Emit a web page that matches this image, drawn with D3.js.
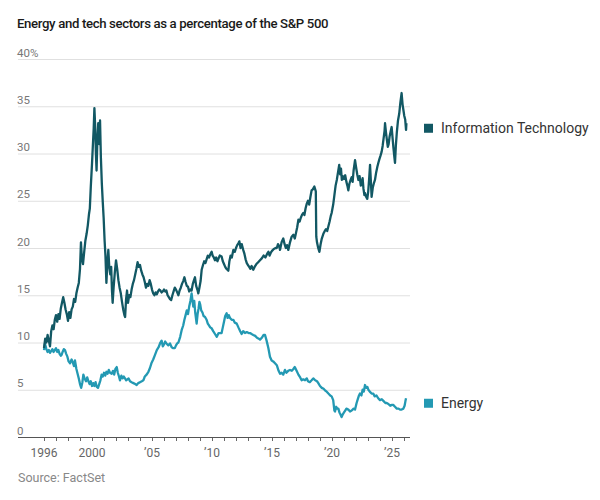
<!DOCTYPE html>
<html>
<head>
<meta charset="utf-8">
<script src="https://cdn.jsdelivr.net/npm/d3@7"></script>
<style>
  html, body { margin: 0; padding: 0; background: #fff; }
  #chart { width: 600px; height: 500px; }
  svg text { font-family: Roboto, "Noto Sans", sans-serif; }
</style>
</head>
<body>
<div id="chart"></div>
<script>
// ---------- Data ----------
const itYears = [
  1996.0, 1996.1, 1996.2, 1996.3, 1996.4, 1996.5, 1996.6, 1996.7, 1996.8, 1996.9,
  1997.0, 1997.1, 1997.2, 1997.3, 1997.4, 1997.5, 1997.6, 1997.7, 1997.8, 1997.9,
  1998.0, 1998.1, 1998.2, 1998.3, 1998.4, 1998.5, 1998.6, 1998.7, 1998.8, 1998.9,
  1999.0, 1999.08, 1999.15, 1999.25, 1999.35, 1999.45, 1999.55, 1999.65, 1999.75, 1999.82, 1999.9,
  2000.0, 2000.07, 2000.14, 2000.2, 2000.26, 2000.32, 2000.38, 2000.45, 2000.52, 2000.6, 2000.67, 2000.74, 2000.82, 2000.9, 2000.97,
  2001.05, 2001.12, 2001.2, 2001.28, 2001.36, 2001.44, 2001.52, 2001.6, 2001.66, 2001.72, 2001.8, 2001.9,
  2002.0, 2002.1, 2002.2, 2002.3, 2002.4, 2002.5, 2002.6, 2002.7, 2002.76, 2002.84, 2002.92,
  2003.0, 2003.1, 2003.2, 2003.3, 2003.4, 2003.5, 2003.6, 2003.7, 2003.8, 2003.9,
  2004.0, 2004.1, 2004.2, 2004.3, 2004.4, 2004.5, 2004.6, 2004.7, 2004.8, 2004.9,
  2005.0, 2005.1, 2005.2, 2005.3, 2005.4, 2005.5, 2005.6, 2005.7, 2005.8, 2005.9,
  2006.0, 2006.1, 2006.2, 2006.3, 2006.4, 2006.5, 2006.6, 2006.7, 2006.8, 2006.9,
  2007.0, 2007.1, 2007.2, 2007.3, 2007.4, 2007.5, 2007.6, 2007.7, 2007.8, 2007.9,
  2008.0, 2008.1, 2008.2, 2008.3, 2008.4, 2008.5, 2008.58, 2008.68, 2008.78, 2008.86, 2008.95,
  2009.05, 2009.14, 2009.25, 2009.35, 2009.45, 2009.55, 2009.65, 2009.75, 2009.85, 2009.97,
  2010.05, 2010.15, 2010.25, 2010.35, 2010.45, 2010.55, 2010.65, 2010.8, 2010.9,
  2011.0, 2011.1, 2011.2, 2011.36, 2011.45, 2011.55, 2011.65, 2011.78, 2011.9,
  2012.0, 2012.1, 2012.2, 2012.28, 2012.38, 2012.48, 2012.6, 2012.7, 2012.8, 2012.9,
  2013.0, 2013.1, 2013.2, 2013.3, 2013.44, 2013.55, 2013.7, 2013.85,
  2014.0, 2014.15, 2014.3, 2014.45, 2014.6, 2014.7, 2014.8, 2014.9,
  2015.0, 2015.15, 2015.3, 2015.4, 2015.5, 2015.6, 2015.67, 2015.8, 2015.94,
  2016.05, 2016.15, 2016.25, 2016.36, 2016.5, 2016.64, 2016.78, 2016.9,
  2017.0, 2017.1, 2017.2, 2017.3, 2017.4, 2017.5, 2017.6, 2017.7, 2017.8, 2017.9,
  2018.0, 2018.1, 2018.2, 2018.3, 2018.4, 2018.53, 2018.65, 2018.69, 2018.75, 2018.85, 2018.95,
  2019.05, 2019.15, 2019.28, 2019.4, 2019.5, 2019.6, 2019.7, 2019.8, 2019.9, 2019.97,
  2020.1, 2020.2, 2020.3, 2020.4, 2020.5, 2020.6, 2020.68, 2020.75, 2020.82, 2020.9,
  2021.0, 2021.1, 2021.2, 2021.28, 2021.36, 2021.45, 2021.55, 2021.64, 2021.72, 2021.8, 2021.92,
  2022.0, 2022.1, 2022.2, 2022.3, 2022.4, 2022.47, 2022.55, 2022.62, 2022.7, 2022.75, 2022.85, 2022.94,
  2023.02, 2023.1, 2023.17, 2023.25, 2023.3, 2023.4, 2023.5, 2023.58, 2023.68, 2023.78, 2023.86, 2023.95,
  2024.05, 2024.14, 2024.22, 2024.3, 2024.38, 2024.42, 2024.5, 2024.58, 2024.65, 2024.72, 2024.8, 2024.9, 2024.97,
  2025.05, 2025.12, 2025.2, 2025.25, 2025.32, 2025.4, 2025.5, 2025.6, 2025.7, 2025.8, 2025.88, 2025.95,
  2026.02, 2026.1, 2026.17, 2026.2
];
const itValues = [
  9.4, 10.4, 10.0, 10.8, 10.2, 9.6, 11.2, 11.8, 11.4, 12.4,
  12.9, 12.2, 13.0, 12.5, 13.6, 14.2, 14.8, 14.2, 13.5, 13.0,
  12.3, 13.2, 12.6, 13.5, 13.8, 14.6, 14.3, 15.2, 15.8, 16.3,
  17.8, 20.6, 19.0, 18.3, 19.6, 20.8, 21.5, 22.4, 23.6, 24.2, 26.5,
  28.9, 30.8, 32.6, 34.8, 33.0, 30.2, 28.2, 31.5, 33.2, 31.0, 33.5, 29.6, 26.8, 24.8, 23.2,
  20.8, 19.2, 16.3, 18.4, 19.8, 18.0, 17.2, 18.0, 15.6, 14.2, 15.8, 17.4,
  18.7, 17.8, 16.6, 15.8, 15.2, 14.3, 13.5, 12.9, 12.7, 14.6, 15.5,
  14.2, 15.0, 14.8, 15.6, 16.2, 16.6, 17.2, 17.8, 18.5, 18.0,
  18.2, 17.6, 17.2, 16.9, 16.4, 15.8, 16.2, 16.0, 16.6, 16.2,
  15.6, 15.2, 15.0, 15.3, 15.1, 15.4, 15.6, 15.5, 15.3, 15.4,
  15.6, 15.4, 15.5, 15.0, 14.8, 14.6, 14.5, 15.0, 15.4, 15.8,
  15.6, 15.3, 15.0, 15.5, 15.8, 16.2, 16.5, 16.9, 16.4, 16.0,
  15.9, 15.4, 15.6, 15.5, 16.2, 16.6, 16.9, 16.0, 15.6, 15.2, 15.8,
  16.5, 17.7, 18.2, 18.6, 18.4, 18.8, 19.2, 19.0, 19.3, 19.6,
  19.2, 19.0, 18.7, 19.0, 18.6, 18.9, 19.2, 19.1, 18.6,
  18.3, 18.0, 17.8, 17.6, 18.6, 19.2, 19.0, 19.8, 19.6,
  20.0, 20.3, 20.5, 20.7, 20.0, 20.4, 19.8, 19.4, 18.8, 18.4,
  18.2, 18.0, 17.8, 18.1, 17.7, 18.0, 18.3, 18.5,
  18.7, 18.9, 19.2, 19.0, 19.4, 19.6, 19.2, 19.5,
  19.7, 19.9, 20.0, 20.0, 20.4, 20.2, 19.8, 20.6, 21.0,
  20.4, 20.0, 20.3, 19.8, 20.6, 21.2, 21.4, 21.0,
  21.6, 22.2, 23.0, 22.8, 23.2, 23.5, 23.7, 23.5, 24.2, 24.7,
  25.0, 24.6, 25.4, 26.1, 26.2, 26.5, 26.0, 21.2, 20.6, 20.0, 19.6,
  20.4, 21.0, 21.5, 21.8, 22.0, 21.8, 22.3, 22.8, 23.4, 23.7,
  24.6, 25.6, 26.6, 27.2, 28.0, 28.8, 27.8, 28.4, 27.2, 27.6,
  27.3, 27.7, 27.0, 26.6, 26.1, 26.8, 27.2, 27.5, 27.0, 28.2, 29.3,
  28.6, 27.8, 27.2, 27.6, 26.6, 26.8, 27.4, 26.3, 25.6, 25.8, 25.4, 25.2,
  26.0, 27.4, 28.8, 26.8, 25.4, 26.4, 26.9, 27.2, 28.0, 28.6, 29.0, 29.4,
  29.8, 30.2, 30.8, 31.6, 32.4, 33.2, 32.2, 31.4, 30.7, 31.0, 31.8, 32.4, 32.8,
  31.6, 30.6, 29.6, 29.0, 30.8, 32.2, 33.5, 34.2, 35.4, 36.4, 35.2, 34.6,
  34.0, 33.6, 32.5, 33.2
];

const energyYears = [
  1996.0, 1996.08, 1996.2, 1996.3, 1996.4, 1996.5, 1996.6, 1996.7, 1996.8, 1996.9,
  1997.0, 1997.1, 1997.2, 1997.3, 1997.4, 1997.47, 1997.55, 1997.65, 1997.75, 1997.85, 1997.95,
  1998.05, 1998.17, 1998.3, 1998.4, 1998.5, 1998.58, 1998.7, 1998.8, 1998.9,
  1999.0, 1999.1, 1999.2, 1999.28, 1999.38, 1999.5, 1999.6, 1999.7, 1999.8, 1999.9,
  2000.0, 2000.1, 2000.2, 2000.3, 2000.4, 2000.5, 2000.6, 2000.7, 2000.8, 2000.9,
  2001.0, 2001.1, 2001.2, 2001.3, 2001.4, 2001.5, 2001.64, 2001.75, 2001.85, 2001.95,
  2002.06, 2002.15, 2002.25, 2002.33, 2002.45, 2002.55, 2002.65, 2002.75, 2002.85, 2002.95,
  2003.05, 2003.17, 2003.3, 2003.45, 2003.6, 2003.72, 2003.85,
  2004.0, 2004.15, 2004.28, 2004.4, 2004.55, 2004.7, 2004.83, 2004.95,
  2005.1, 2005.25, 2005.4, 2005.55, 2005.7, 2005.8, 2005.9,
  2006.0, 2006.1, 2006.2, 2006.36, 2006.5, 2006.64, 2006.75, 2006.9,
  2007.0, 2007.1, 2007.2, 2007.35, 2007.47, 2007.6, 2007.7, 2007.8, 2007.9,
  2008.0, 2008.1, 2008.2, 2008.3, 2008.36, 2008.44, 2008.52, 2008.6, 2008.72, 2008.8, 2008.88, 2008.95,
  2009.02, 2009.1, 2009.2, 2009.3, 2009.42, 2009.55, 2009.65, 2009.75, 2009.85, 2009.97,
  2010.1, 2010.25, 2010.4, 2010.55, 2010.7, 2010.8, 2010.9,
  2011.0, 2011.1, 2011.22, 2011.3, 2011.4, 2011.5, 2011.64, 2011.78, 2011.9,
  2012.06, 2012.2, 2012.35, 2012.47, 2012.6, 2012.75, 2012.9,
  2013.05, 2013.17, 2013.3, 2013.44, 2013.6, 2013.75, 2013.9,
  2014.0, 2014.15, 2014.3, 2014.42, 2014.55, 2014.7, 2014.83, 2014.97,
  2015.1, 2015.25, 2015.4, 2015.55, 2015.67, 2015.8, 2015.94,
  2016.08, 2016.2, 2016.35, 2016.5, 2016.65, 2016.78, 2016.9,
  2017.05, 2017.2, 2017.35, 2017.47, 2017.6, 2017.75, 2017.9,
  2018.0, 2018.15, 2018.3, 2018.44, 2018.6, 2018.75, 2018.86,
  2019.0, 2019.15, 2019.3, 2019.45, 2019.56, 2019.7, 2019.85, 2019.97,
  2020.1, 2020.2, 2020.25, 2020.35, 2020.45, 2020.53, 2020.62, 2020.7, 2020.8, 2020.9,
  2021.0, 2021.1, 2021.2, 2021.36, 2021.5, 2021.64, 2021.8, 2021.92,
  2022.05, 2022.15, 2022.25, 2022.33, 2022.45, 2022.55, 2022.65, 2022.75, 2022.85, 2022.95,
  2023.03, 2023.15, 2023.3, 2023.44, 2023.55, 2023.7, 2023.85,
  2024.0, 2024.15, 2024.3, 2024.45, 2024.56, 2024.7, 2024.85,
  2025.0, 2025.1, 2025.25, 2025.4, 2025.55, 2025.67, 2025.8, 2025.94,
  2026.05, 2026.12, 2026.17
];
const energyValues = [
  9.2, 9.9, 9.3, 9.0, 9.2, 8.9, 9.1, 9.3, 9.0, 9.2,
  9.4, 9.0, 9.2, 8.8, 8.6, 8.7, 9.0, 9.3, 9.2, 8.8, 8.5,
  8.0, 7.8, 8.2, 7.9, 7.5, 8.1, 7.2, 6.7, 6.2,
  5.6, 5.2, 5.8, 6.6, 6.2, 5.9, 6.3, 5.9, 5.6, 5.9,
  5.4, 5.7, 5.4, 5.8, 5.3, 5.2, 5.6, 6.0, 6.6, 6.4,
  6.8, 6.5, 6.9, 6.7, 7.1, 6.8, 6.7, 7.0, 6.6, 7.2,
  7.4, 6.8, 6.4, 6.0, 6.5, 6.2, 6.4, 6.2, 6.0, 6.1,
  6.2, 5.9, 5.8, 5.7, 5.6, 5.5, 5.7,
  5.8, 5.9, 6.0, 6.4, 6.6, 6.9, 7.3, 7.8,
  8.2, 8.7, 9.2, 9.5, 10.0, 10.2, 9.6,
  9.8, 10.1, 9.9, 9.7, 9.9, 9.5, 9.4, 9.4,
  9.7, 9.9, 10.0, 10.6, 11.3, 11.8, 12.4, 12.9, 13.4,
  13.0, 13.8, 14.4, 15.2, 14.6, 13.8, 14.4, 13.2, 12.0, 13.0, 13.6, 14.3,
  14.0, 13.4, 13.2, 12.8, 12.7, 12.4, 12.0, 11.8, 11.6, 11.5,
  11.2, 10.9, 10.6, 11.0, 11.0, 11.0, 11.6,
  12.2, 12.8, 13.1, 12.6, 12.9, 12.6, 12.4, 12.4, 12.1,
  12.0, 11.6, 11.2, 10.9, 11.2, 11.0, 11.1,
  11.0, 11.0, 10.9, 10.8, 10.7, 10.5, 10.4,
  10.3, 10.5, 10.8, 10.8, 10.2, 9.4, 8.5, 8.1,
  8.0, 7.8, 7.6, 7.0, 6.7, 6.8, 6.6,
  7.1, 6.8, 7.0, 7.1, 7.0, 7.2, 7.4,
  7.0, 6.6, 6.3, 6.0, 6.1, 6.0, 6.2,
  5.9, 5.8, 6.0, 6.2, 6.0, 5.9, 5.7,
  5.4, 5.2, 5.1, 4.9, 4.8, 4.6, 4.4, 4.3,
  3.9, 2.8, 2.7, 3.2, 3.0, 3.0, 2.6, 2.4, 2.1, 2.4,
  2.6, 2.8, 3.0, 2.9, 2.7, 2.8, 3.0, 2.9,
  3.6, 4.0, 4.4, 4.6, 4.4, 5.0, 4.8, 5.5, 5.2, 5.3,
  5.0, 4.8, 4.6, 4.6, 4.3, 4.4, 4.1,
  3.9, 4.0, 3.8, 3.6, 3.6, 3.5, 3.3,
  3.4, 3.4, 3.2, 3.0, 3.0, 2.9, 2.9, 3.0,
  3.3, 3.8, 4.1
];

const yTicks = [0, 5, 10, 15, 20, 25, 30, 35, 40];
const xLabelYears = [1996, 2000, 2005, 2010, 2015, 2020, 2025];
const xLabelText = ['1996', '2000', '\u201905', '\u201910', '\u201915', '\u201920', '\u201925'];
const seriesNames = ['Information Technology', 'Energy'];
const seriesColors = ['#125864', '#2399b3'];

const titleText = 'Energy and tech sectors as a percentage of the S&P 500';
const sourceText = 'Source: FactSet';

// ---------- Scales ----------
const W = 600, H = 500;
const left = 18, right = 410;

const x = d3.scaleLinear().domain([1996, 2026.5]).range([44, 410]);
const y = d3.scaleLinear().domain([0, 40]).range([437, 59]);

const svg = d3.select('#chart').append('svg')
  .attr('width', W).attr('height', H)
  .attr('viewBox', `0 0 ${W} ${H}`);

// title
svg.append('text')
  .attr('x', 17).attr('y', 28)
  .attr('font-size', 13.2).attr('font-weight', 500)
  .attr('letter-spacing', -0.35)
  .attr('fill', '#1a1a1a')
  .text(titleText);

// gridlines + y labels
const grid = svg.append('g');
grid.selectAll('line')
  .data(yTicks.filter(d => d > 0))
  .enter().append('line')
  .attr('x1', left).attr('x2', right)
  .attr('y1', d => y(d) + 0.5).attr('y2', d => y(d) + 0.5)
  .attr('stroke', '#e0e0e0').attr('stroke-width', 1);

grid.selectAll('text')
  .data(yTicks)
  .enter().append('text')
  .attr('x', 17).attr('y', d => y(d) - 2.5)
  .attr('font-size', 11.5).attr('fill', '#777')
  .text(d => d === 40 ? '40%' : d);

// x axis: yearly ticks, labelled every 5 years
const xAxis = d3.axisBottom(x)
  .tickValues(d3.range(1996, 2027))
  .tickSize(4)
  .tickFormat('');
const ax = svg.append('g')
  .attr('transform', `translate(0,${y(0)})`)
  .call(xAxis);
ax.select('.domain').remove();
ax.selectAll('.tick line').attr('stroke', '#666');
svg.append('line')
  .attr('x1', left).attr('x2', right)
  .attr('y1', y(0) + 0.5).attr('y2', y(0) + 0.5)
  .attr('stroke', '#555').attr('stroke-width', 1);

svg.append('g').selectAll('text')
  .data(xLabelYears)
  .enter().append('text')
  .attr('x', d => x(d)).attr('y', 457)
  .attr('text-anchor', 'middle')
  .attr('font-size', 12).attr('fill', '#666')
  .text((d, i) => xLabelText[i]);

// lines
const line = d3.line()
  .x(d => x(d[0]))
  .y(d => y(d[1]));

const series = [
  d3.zip(itYears, itValues),
  d3.zip(energyYears, energyValues)
];

// energy under IT
[1, 0].forEach(i => {
  svg.append('path')
    .datum(series[i])
    .attr('d', line)
    .attr('fill', 'none')
    .attr('stroke', seriesColors[i])
    .attr('stroke-width', 2.3)
    .attr('stroke-linejoin', 'round');
});

// legend at the line ends
series.forEach((s, i) => {
  const last = s[s.length - 1];
  const cy = y(last[1]) + 5;
  svg.append('rect')
    .attr('x', 424).attr('y', cy - 4.5)
    .attr('width', 9).attr('height', 9)
    .attr('fill', seriesColors[i]);
  svg.append('text')
    .attr('x', 441).attr('y', cy + 5)
    .attr('font-size', 14).attr('fill', '#333')
    .text(seriesNames[i]);
});

// source
svg.append('text')
  .attr('x', 18).attr('y', 482)
  .attr('font-size', 12.5).attr('fill', '#888')
  .text(sourceText);
</script>
</body>
</html>
